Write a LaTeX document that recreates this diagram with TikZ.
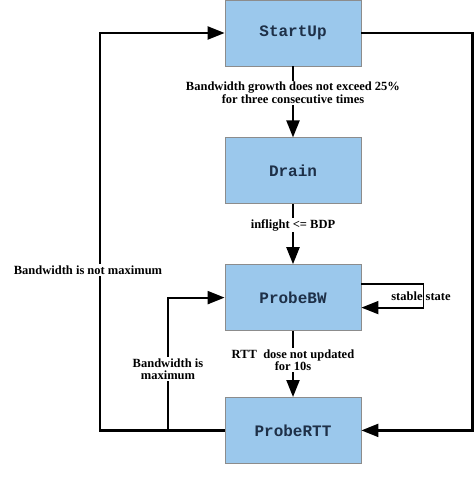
\documentclass[tikz,border=0pt]{standalone}
\usepackage{fontspec}
\setmainfont{Liberation Serif}
\newfontfamily\statefont{Liberation Mono}
\usetikzlibrary{arrows.meta,positioning}

\definecolor{stateblue}{RGB}{155,200,236}
\definecolor{statetext}{RGB}{30,48,72}

\begin{document}
\begin{tikzpicture}[node distance=1.2cm,
  state/.style={rectangle, draw=black!45, line width=0.8pt, fill=stateblue, minimum width=136pt, minimum height=66pt, font=\statefont\bfseries\fontsize{16}{18}\selectfont, text=statetext},
  lbl/.style={fill=white, inner sep=1.5pt, align=center, font=\bfseries\fontsize{12.5}{12.5}\selectfont},
  arrow/.style={line width=2.2pt, -{Triangle[length=17pt,width=13pt]}}]

  \useasboundingbox (0,0) rectangle (474pt,-486pt);

  \node[state] (startup) at (293pt,-33pt) {StartUp};
  \node[state, below=71pt of startup] (drain) {Drain};
  \node[state, below=60pt of drain] (probebw) {ProbeBW};
  \node[state, below=66pt of probebw] (probertt) {ProbeRTT};

  \draw[arrow] (startup) -- node[lbl, pos=0.37] {Bandwidth growth does not exceed 25\%\\for three consecutive times} (drain);
  \draw[arrow] (drain) -- node[lbl, pos=0.35] {inflight <= BDP} (probebw);
  \draw[arrow] (probebw) -- node[lbl, pos=0.44] {RTT\ \ dose not updated\\for 10s} (probertt);

  % loops back to the top
  \draw[arrow] (probertt.west) -- ++(-125pt,0) |- (startup.west);
  \draw[arrow] ([xshift=-57pt]probertt.west) |- (probebw.west);
  \draw[arrow] (startup.east) -- ++(111pt,0) |- (probertt.east);
  \draw[arrow, line width=1.8pt] ([yshift=14pt]probebw.east) -- ++(62pt,0) |- ([yshift=-10pt]probebw.east);

  \node[lbl] (notmax) at (88pt,-270pt) {Bandwidth is not maximum};
  \node[lbl] (ismax) at (168pt,-369pt) {Bandwidth is\\maximum};
  \node[lbl, fill=none] (stable) at (421pt,-296pt) {stable state};

\end{tikzpicture}
\end{document}
